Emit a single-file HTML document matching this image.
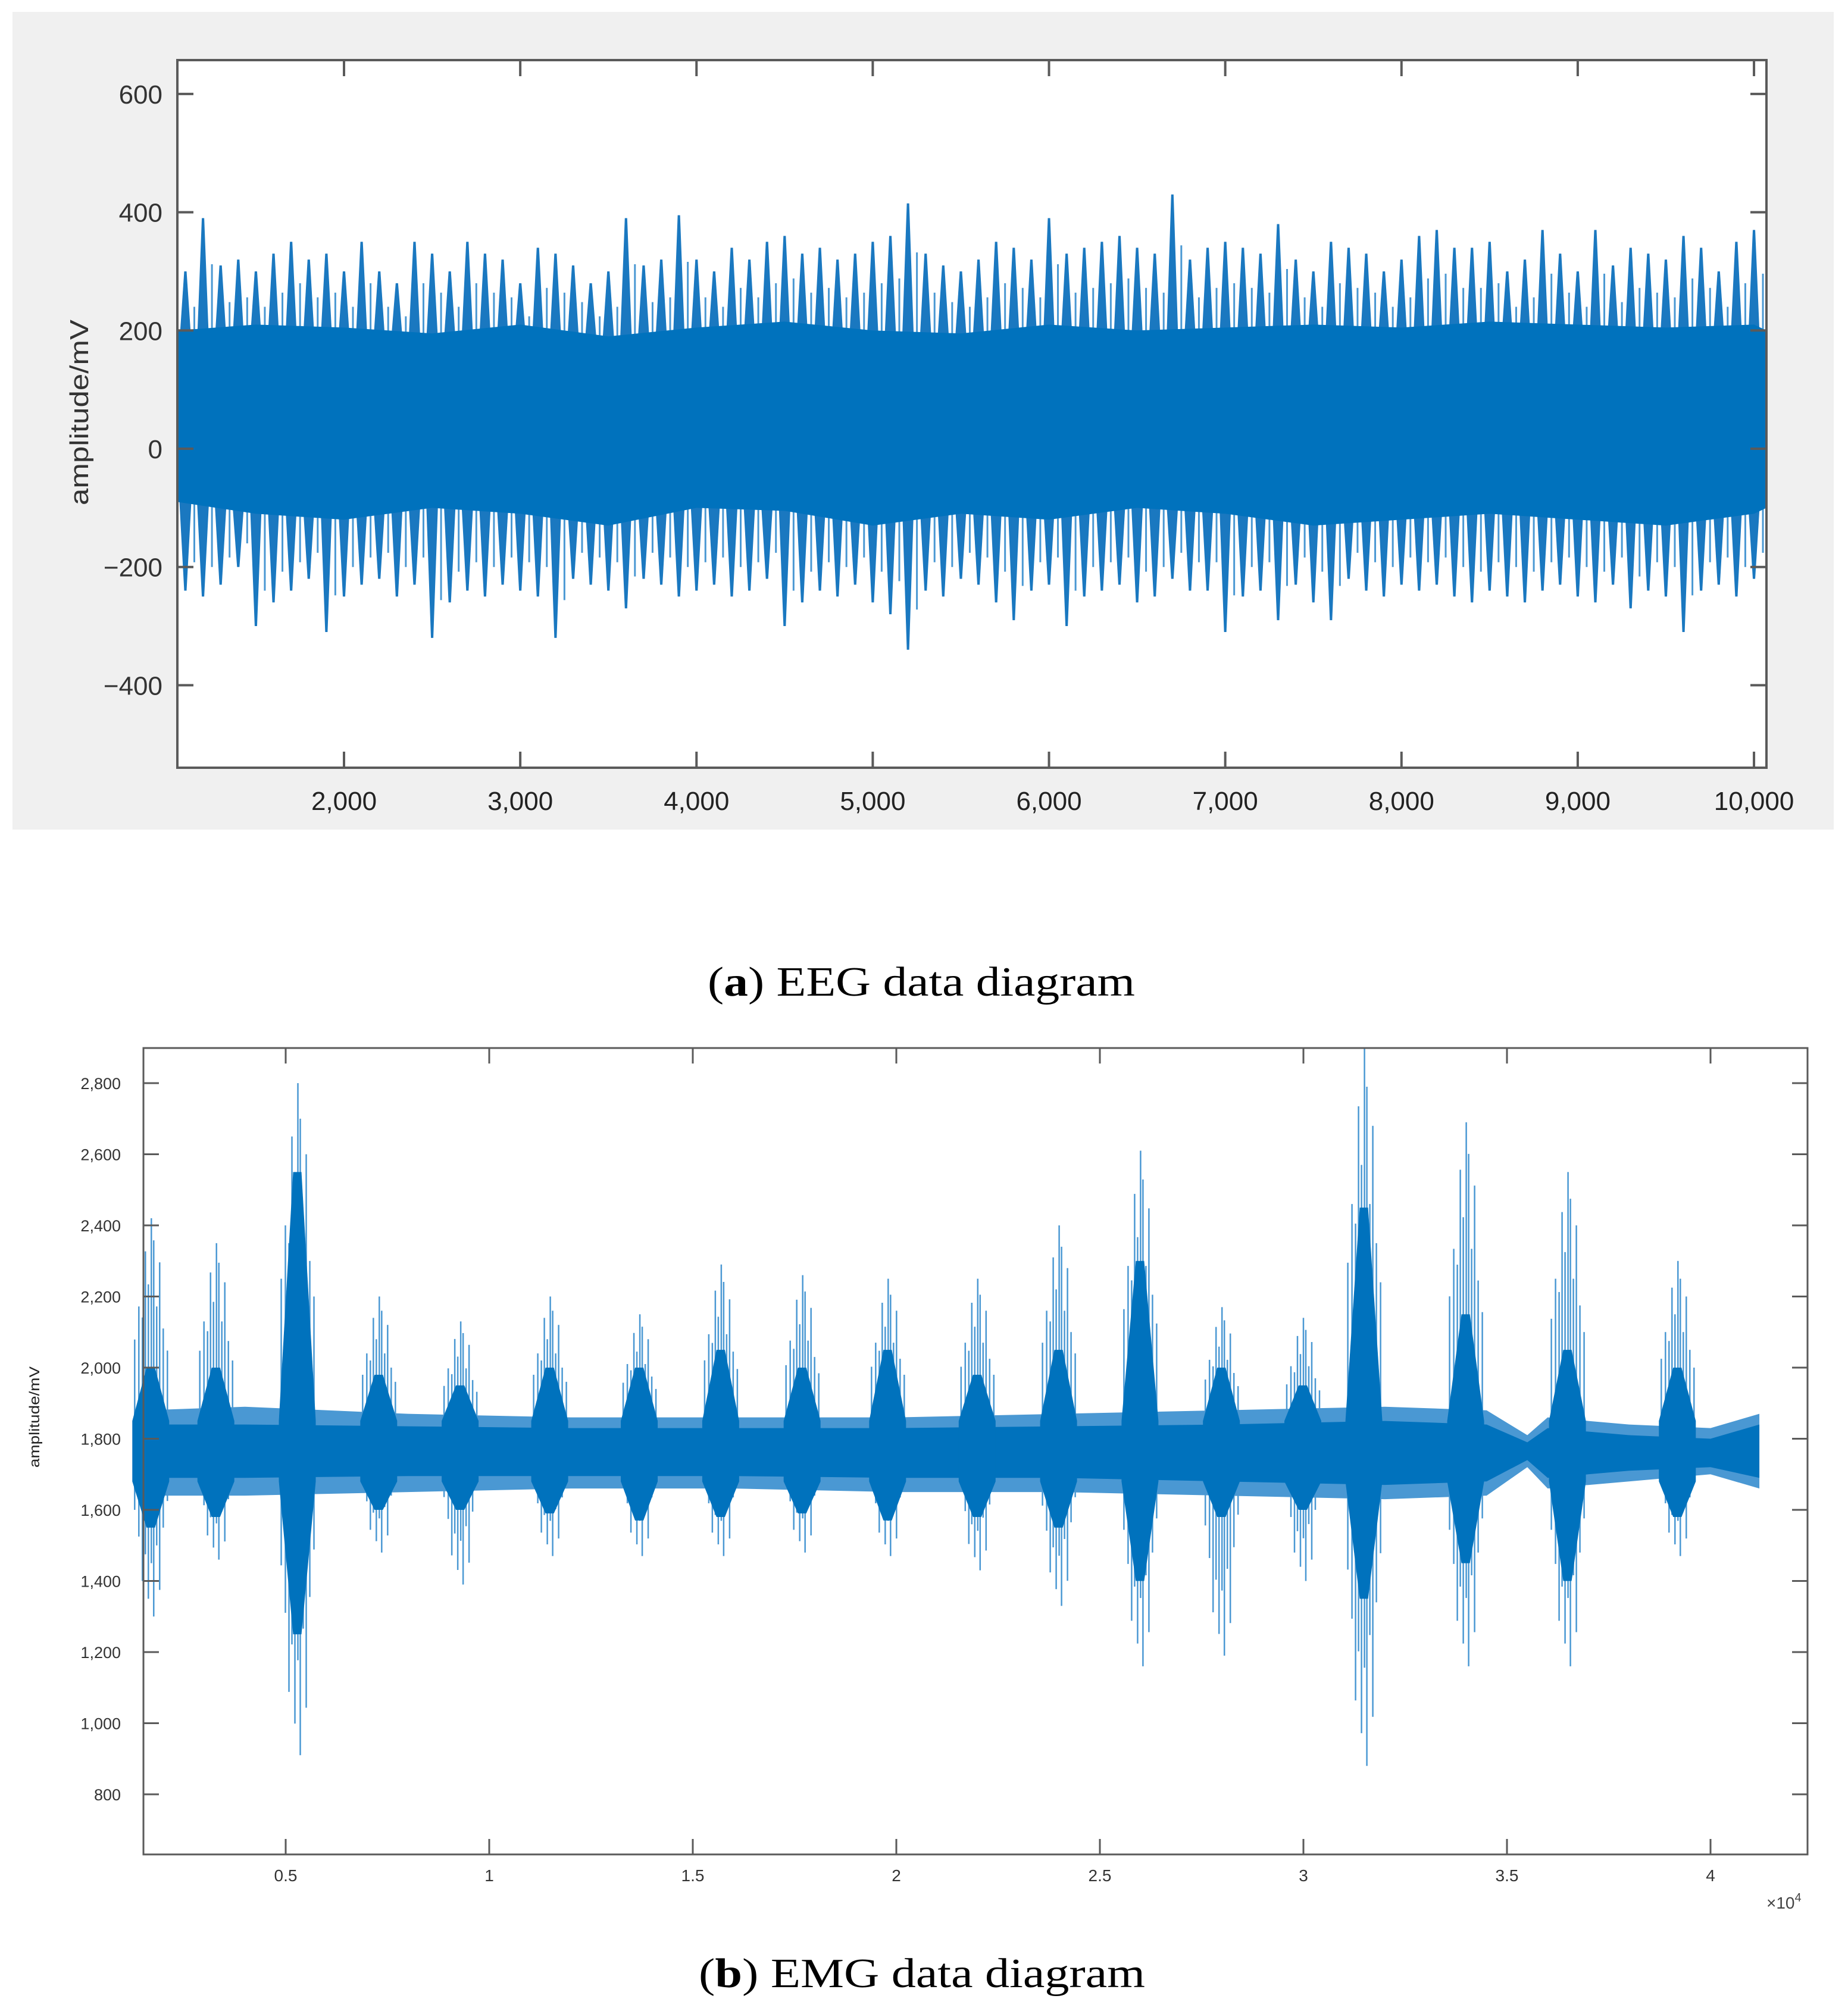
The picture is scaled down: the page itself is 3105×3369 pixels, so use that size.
<!DOCTYPE html>
<html><head><meta charset="utf-8"><style>
html,body{margin:0;padding:0;background:#fff;}
svg{display:block;}
</style></head><body>
<svg id="fig" xmlns="http://www.w3.org/2000/svg" width="3105" height="3369" viewBox="0 0 3105 3369">
<rect x="0" y="0" width="3105" height="3369" fill="#ffffff"/>
<rect x="21" y="20" width="3060" height="1374" fill="#f0f0f0"/>
<rect x="298" y="101" width="2670" height="1189" fill="#ffffff"/>
<rect x="241" y="1761" width="2796" height="1355" fill="#ffffff"/>
<g id="eegMarks"></g>
<g id="emgMarks"></g>
<g id="axes"></g>
<text transform="translate(148,693) rotate(-90)" text-anchor="middle" font-family="Liberation Sans, sans-serif" font-size="44" fill="#333" textLength="312" lengthAdjust="spacingAndGlyphs">amplitude/mV</text>
<text transform="translate(66,2381) rotate(-90)" text-anchor="middle" font-family="Liberation Sans, sans-serif" font-size="24" fill="#222" textLength="170" lengthAdjust="spacingAndGlyphs">amplitude/mV</text>
<text x="2968" y="3207" font-family="Liberation Sans, sans-serif" font-size="28" fill="#444">×10<tspan dy="-12" font-size="20">4</tspan></text>
<text x="1189" y="1673" font-family="Liberation Serif, serif" font-size="70" fill="#000" textLength="718" lengthAdjust="spacingAndGlyphs">(<tspan font-weight="bold">a</tspan>) EEG data diagram</text>
<text x="1174" y="3339" font-family="Liberation Serif, serif" font-size="70" fill="#000" textLength="750" lengthAdjust="spacingAndGlyphs">(<tspan font-weight="bold">b</tspan>) EMG data diagram</text>
</svg>
<script>
// ---------- EEG data ----------
const eegX0 = 1100, eegStep = 100;
const eegHi = [300,390,310,320,300,330,350,320,330,300, 350,300,280,350,330,300,350,330,320,280, 340,330,310,280,300,390,310,320,395,320, 300,340,320,350,360,330,340,320,330,350, 360,415,330,310,300,320,350,340,320,390, 330,340,350,360,340,330,430,320,340,350, 340,330,380,320,300,350,340,330,300,320, 360,370,340,340,350,300,320,370,330,300, 370,310,340,330,320,360,340,300,350,370];
const eegLo = [-240,-250,-230,-200,-300,-260,-240,-220,-310,-250, -230,-220,-250,-230,-320,-260,-240,-250,-230,-240, -250,-320,-220,-230,-240,-270,-220,-230,-250,-240, -230,-250,-240,-220,-300,-260,-240,-250,-230,-260, -280,-340,-240,-250,-220,-230,-260,-290,-240,-230, -300,-250,-240,-230,-260,-250,-220,-240,-240,-310, -250,-240,-290,-230,-260,-290,-220,-240,-250,-230, -240,-230,-250,-260,-240,-250,-260,-240,-230,-250, -260,-230,-270,-240,-250,-310,-240,-230,-250,-220];
const eegCoreX = [1054,1500,2000,2500,3000,3500,4000,4500,5000,5500,6000,6500,7000,7500,8000,8500,9000,9500,10000,10071];
const eegCoreHi = [200,210,205,195,210,190,205,215,200,195,210,200,205,210,205,215,210,205,210,200];
const eegCoreLo = [-90,-110,-120,-100,-110,-130,-100,-105,-130,-110,-120,-100,-110,-130,-120,-110,-120,-130,-110,-100];
const eegXTicks = [2000,3000,4000,5000,6000,7000,8000,9000,10000];
const eegXTickLabels = ["2,000","3,000","4,000","5,000","6,000","7,000","8,000","9,000","10,000"];
const eegYTicks = [-400,-200,0,200,400,600];
const eegYTickLabels = ["\u2212400","\u2212200","0","200","400","600"];

// ---------- EMG data ----------
const emgBaseX = [0.155,0.4,0.8,1.2,1.6,2.0,2.4,2.8,3.2,3.45,3.55,3.6,3.8,4.0,4.12];
const emgOuterHi = [1880,1890,1870,1860,1860,1860,1870,1880,1890,1880,1810,1860,1840,1830,1870];
const emgOuterLo = [1640,1640,1650,1660,1660,1650,1650,1640,1630,1640,1720,1660,1680,1700,1660];
const emgCoreHi = [1840,1840,1835,1830,1830,1830,1835,1840,1850,1840,1790,1830,1810,1800,1840];
const emgCoreLo = [1690,1690,1695,1695,1695,1690,1690,1680,1670,1680,1740,1690,1710,1720,1690];
const burstX = [0.17,0.33,0.53,0.73,0.93,1.15,1.37,1.57,1.77,1.98,2.2,2.4,2.6,2.8,3.0,3.15,3.4,3.65,3.92];
const burstHi = [2420,2350,2800,2200,2130,2200,2150,2290,2260,2250,2250,2400,2610,2170,2140,2900,2690,2550,2300];
const burstLo = [1300,1460,910,1480,1390,1470,1470,1470,1480,1470,1430,1330,1160,1190,1400,880,1160,1160,1470];
const burstDenseHi = [2000,2000,2550,1980,1950,2000,2000,2050,2000,2050,1980,2050,2300,2000,1950,2450,2150,2050,2000];
const burstDenseLo = [1550,1580,1250,1600,1600,1590,1570,1580,1590,1570,1580,1550,1400,1580,1600,1350,1450,1400,1580];
const emgXTicks = [0.5,1,1.5,2,2.5,3,3.5,4];
const emgXTickLabels = ["0.5","1","1.5","2","2.5","3","3.5","4"];
const emgYTicks = [800,1000,1200,1400,1600,1800,2000,2200,2400,2600,2800];
const emgYTickLabels = ["800","1,000","1,200","1,400","1,600","1,800","2,000","2,200","2,400","2,600","2,800"];

// ---------- scales ----------
const xA = v => 578 + (v - 2000) * 0.29613;
const yA = v => 754 - v * 0.9935;
const xB = v => 480 + (v - 0.5) * 684;
const yB = v => 1820 + (2800 - v) * 0.5975;

const NS = "http://www.w3.org/2000/svg";
function mk(tag, attrs, parent) {
  const e = document.createElementNS(NS, tag);
  for (const k in attrs) e.setAttribute(k, attrs[k]);
  parent.appendChild(e);
  return e;
}
const eegG = document.getElementById('eegMarks');
const emgG = document.getElementById('emgMarks');
const axG = document.getElementById('axes');

// EEG spikes: tapered forest from core to extreme
eegHi.forEach((h, i) => {
  const x = xA(eegX0 + i * eegStep);
  const lo = eegLo[i];
  const mu = mk('line', {x1: x+15, x2: x+15, y1: yA(h*0.8), y2: yA(lo*0.8), stroke: '#4a98d3', 'stroke-width': 3}, eegG);
  
  
  const pu = mk('polygon', {points: [(x-10)+','+yA(180), (x-2)+','+yA(h), (x+2)+','+yA(h), (x+10)+','+yA(180)].join(' '), fill: '#1a78c0'}, eegG);
  
  
  const pd = mk('polygon', {points: [(x-10)+','+yA(-90), (x-2)+','+yA(lo), (x+2)+','+yA(lo), (x+10)+','+yA(-90)].join(' '), fill: '#1a78c0'}, eegG);
  
  
});
// EEG core band
{
  let pts = eegCoreX.map((v, i) => xA(v) + ',' + yA(eegCoreHi[i]));
  pts = pts.concat(eegCoreX.map((v, i) => xA(v) + ',' + yA(eegCoreLo[i])).reverse());
  const p = mk('polygon', {points: pts.join(' '), fill: '#0072bd'}, eegG);
  
  
}

// EMG bands
function band(hi, lo, color, name) {
  let pts = emgBaseX.map((v, i) => xB(v) + ',' + yB(hi[i]));
  pts = pts.concat(emgBaseX.map((v, i) => xB(v) + ',' + yB(lo[i])).reverse());
  const p = mk('polygon', {points: pts.join(' '), fill: color}, emgG);
  
  
}
band(emgOuterHi, emgOuterLo, '#4a98d3', 'emg-outer-band');
band(emgCoreHi, emgCoreLo, '#0072bd', 'emg-core-band');
// EMG bursts
const offs = [-28,-21,-15,-10,-5,0,4,9,14,20,27];
const fu = [0.45,0.6,0.55,0.85,0.7,1,0.9,0.6,0.8,0.5,0.4];
const fd = [0.4,0.55,0.8,0.65,0.9,0.7,1,0.6,0.85,0.5,0.35];
burstX.forEach((bx, i) => {
  const cx = xB(bx);
  offs.forEach((o, j) => {
    const up = 1800 + (burstHi[i] - 1800) * fu[j];
    const dn = 1800 - (1800 - burstLo[i]) * fd[j];
    const ln = mk('line', {x1: cx + o, x2: cx + o, y1: yB(up), y2: yB(dn), stroke: '#4a98d3', 'stroke-width': 2.5}, emgG);
    
    
  });
  const poly = mk('polygon', {points: [
    (cx-32)+','+yB(1850), (cx-8)+','+yB(burstDenseHi[i]), (cx+6)+','+yB(burstDenseHi[i]), (cx+30)+','+yB(1850),
    (cx+30)+','+yB(1680), (cx+6)+','+yB(burstDenseLo[i]), (cx-8)+','+yB(burstDenseLo[i]), (cx-32)+','+yB(1680)].join(' '),
    fill: '#0072bd'}, emgG);
  
  
});

// ---------- axes ----------
function frame(x, y, w, h, sw, name) {
  const r = mk('rect', {x: x, y: y, width: w, height: h, fill: 'none', stroke: '#5a5a5a', 'stroke-width': sw}, axG);
  
  
}
frame(298, 101, 2670, 1189, 4, 'eeg-axes-frame');
frame(241, 1761, 2796, 1355, 3, 'emg-axes-frame');

eegXTicks.forEach((v, i) => {
  const x = xA(v);
  mk('line', {x1: x, x2: x, y1: 1290, y2: 1263, stroke: '#5a5a5a', 'stroke-width': 4}, axG);
  mk('line', {x1: x, x2: x, y1: 101, y2: 128, stroke: '#5a5a5a', 'stroke-width': 4}, axG);
  const t = mk('text', {x: x, y: 1361, 'text-anchor': 'middle', 'font-family': 'Liberation Sans, sans-serif', 'font-size': 44, fill: '#222'}, axG);
  t.textContent = eegXTickLabels[i];
  
  
});
eegYTicks.forEach((v, i) => {
  const y = yA(v);
  mk('line', {x1: 298, x2: 325, y1: y, y2: y, stroke: '#5a5a5a', 'stroke-width': 4}, axG);
  mk('line', {x1: 2968, x2: 2941, y1: y, y2: y, stroke: '#5a5a5a', 'stroke-width': 4}, axG);
  const t = mk('text', {x: 273, y: y + 16, 'text-anchor': 'end', 'font-family': 'Liberation Sans, sans-serif', 'font-size': 44, fill: '#333'}, axG);
  t.textContent = eegYTickLabels[i];
  
  
});
emgXTicks.forEach((v, i) => {
  const x = xB(v);
  mk('line', {x1: x, x2: x, y1: 3116, y2: 3090, stroke: '#5a5a5a', 'stroke-width': 3}, axG);
  mk('line', {x1: x, x2: x, y1: 1761, y2: 1787, stroke: '#5a5a5a', 'stroke-width': 3}, axG);
  const t = mk('text', {x: x, y: 3161, 'text-anchor': 'middle', 'font-family': 'Liberation Sans, sans-serif', 'font-size': 28, fill: '#333'}, axG);
  t.textContent = emgXTickLabels[i];
  
  
});
emgYTicks.forEach((v, i) => {
  const y = yB(v);
  mk('line', {x1: 241, x2: 267, y1: y, y2: y, stroke: '#5a5a5a', 'stroke-width': 3}, axG);
  mk('line', {x1: 3037, x2: 3011, y1: y, y2: y, stroke: '#5a5a5a', 'stroke-width': 3}, axG);
  const t = mk('text', {x: 203, y: y + 10, 'text-anchor': 'end', 'font-family': 'Liberation Sans, sans-serif', 'font-size': 27, fill: '#333'}, axG);
  t.textContent = emgYTickLabels[i];
  
  
});
</script>
</body></html>
